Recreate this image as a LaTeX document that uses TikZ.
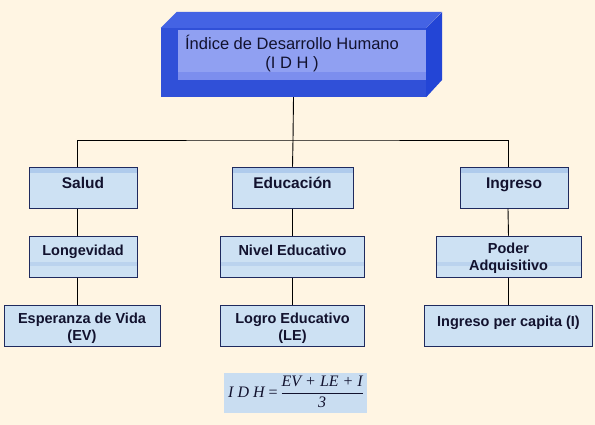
\documentclass[tikz,border=0pt]{standalone}
\usepackage{fontspec}
\setmainfont{Liberation Sans}
\newfontfamily\tms{Liberation Serif}
\definecolor{bgcol}{HTML}{FFF5E3}
\definecolor{boxfill}{HTML}{CDE1F3}
\definecolor{bandA}{HTML}{AFCBEC}
\definecolor{bandB}{HTML}{BBD3EE}
\definecolor{bordercol}{HTML}{1F2A5E}
\definecolor{frontcol}{HTML}{3050D8}
\definecolor{topcol}{HTML}{4463E4}
\definecolor{rightcol}{HTML}{2345D6}
\definecolor{panelcol}{HTML}{90A0F2}
\definecolor{panelband}{HTML}{7C8EEE}
\definecolor{formcol}{HTML}{C9DDF1}
\definecolor{txtcol}{HTML}{12122E}
\begin{document}
\begin{tikzpicture}[x=1pt,y=-1pt,
  conn/.style={draw=black,line width=0.9pt},
  boxbase/.style={draw=bordercol,line width=0.9pt,fill=boxfill,rectangle,inner sep=0pt,minimum height=41pt},
  lvlone/.style={boxbase,path picture={\fill[bandA] (path picture bounding box.north west) rectangle ([yshift=-6pt]path picture bounding box.north east);}},
  lvltwo/.style={boxbase,path picture={\fill[bandB] ([yshift=-26pt]path picture bounding box.north west) rectangle ([yshift=-30pt]path picture bounding box.north east);}},
  lvlthree/.style={boxbase},
  txtone/.style={anchor=base,inner sep=0pt,text=txtcol,font=\bfseries\fontsize{15.5}{18}\selectfont},
  txttwo/.style={anchor=base,inner sep=0pt,align=center,text=txtcol,font=\bfseries\fontsize{14.5}{17}\selectfont},
]
\useasboundingbox (0,0) rectangle (595,425);
\fill[bgcol] (0,0) rectangle (595,425);

% top 3D box
\node[fill=frontcol,rectangle,inner sep=0pt,minimum width=265pt,minimum height=69pt] (idh) at (293.5,62.5) {};
\fill[topcol] (idh.north west) -- ++(16,-16) -- ++(265,0) -- (idh.north east) -- cycle;
\fill[rightcol] (idh.north east) -- ++(16,-16) -- ++(0,68) -- (idh.south east) -- cycle;
\fill[panelcol] (178,30) rectangle (idh.east |- 0,72);
\fill[panelband] (178,72) rectangle (idh.east |- 0,80);
\node[anchor=base,inner sep=0pt,align=center,text=txtcol,font=\fontsize{16.5}{19}\selectfont] (title) at (292,68.3) {Índice de Desarrollo Humano\\(I D H )};

% level boxes
\node[lvlone,minimum width=108pt] (salud) at (83.3,187.7) {};
\node[lvlone,minimum width=121pt] (educ) at (292.5,187.7) {};
\node[lvlone,minimum width=108pt] (ingreso) at (514,187.7) {};
\node[lvltwo,minimum width=108pt] (longev) at (83.3,256.7) {};
\node[lvltwo,minimum width=144pt] (nivel) at (292.5,256.7) {};
\node[lvltwo,minimum width=145pt] (poder) at (508.5,256.7) {};
\node[lvlthree,minimum width=156pt] (esper) at (82,325.5) {};
\node[lvlthree,minimum width=144pt] (logro) at (292.5,325.5) {};
\node[lvlthree,minimum width=168pt] (percap) at (508.5,325.5) {};

% texts
\node[txtone] (tsalud) at (83,188.3) {Salud};
\node[txtone] (teduc) at (292.5,188.3) {Educación};
\node[txtone] (tingreso) at (514,188.3) {Ingreso};
\node[txttwo] (tlongev) at (83,255) {Longevidad};
\node[txttwo] (tnivel) at (292.5,255) {Nivel Educativo};
\node[txttwo] (tpoder) at (508.5,270) {Poder\\Adquisitivo};
\node[txttwo] (tesper) at (82,340) {Esperanza de Vida\\(EV)};
\node[txttwo] (tlogro) at (292.5,340) {Logro Educativo\\(LE)};
\node[txttwo] (tpercap) at (508.5,326.7) {Ingreso per capita (I)};

% connectors
\coordinate (bus) at (293,140);
\draw[conn] (idh.south) -- (bus);
\draw[conn] ([xshift=-6.3pt]salud.north) |- (bus) -| ([xshift=-6pt]ingreso.north);
\draw[conn] (bus) -- (educ.north);
\draw[conn] ([xshift=-6.3pt]salud.south) -- ([xshift=-6.3pt]longev.north);
\draw[conn] ([xshift=-6.3pt]longev.south) -- ([xshift=-5pt]esper.north);
\draw[conn] (educ.south) -- (nivel.north);
\draw[conn] (nivel.south) -- (logro.north);
\draw[conn] ([xshift=-6pt]ingreso.south) -- (poder.north);
\draw[conn] (poder.south) -- (percap.north);

% formula
\node[fill=formcol,rectangle,inner sep=0pt,minimum width=143pt,minimum height=40pt] (fbox) at (295.5,393) {};
\node[inner sep=0pt,text=txtcol,font=\tms\fontsize{16}{18}\selectfont] (formula) at (fbox.center) {\setlength{\arrayrulewidth}{0.6pt}\itshape I D H \upshape=\ \begin{tabular}{@{}c@{}}\itshape EV + LE + I\\[1pt]\hline\rule{0pt}{14pt}\itshape 3\end{tabular}};
\end{tikzpicture}
\end{document}
